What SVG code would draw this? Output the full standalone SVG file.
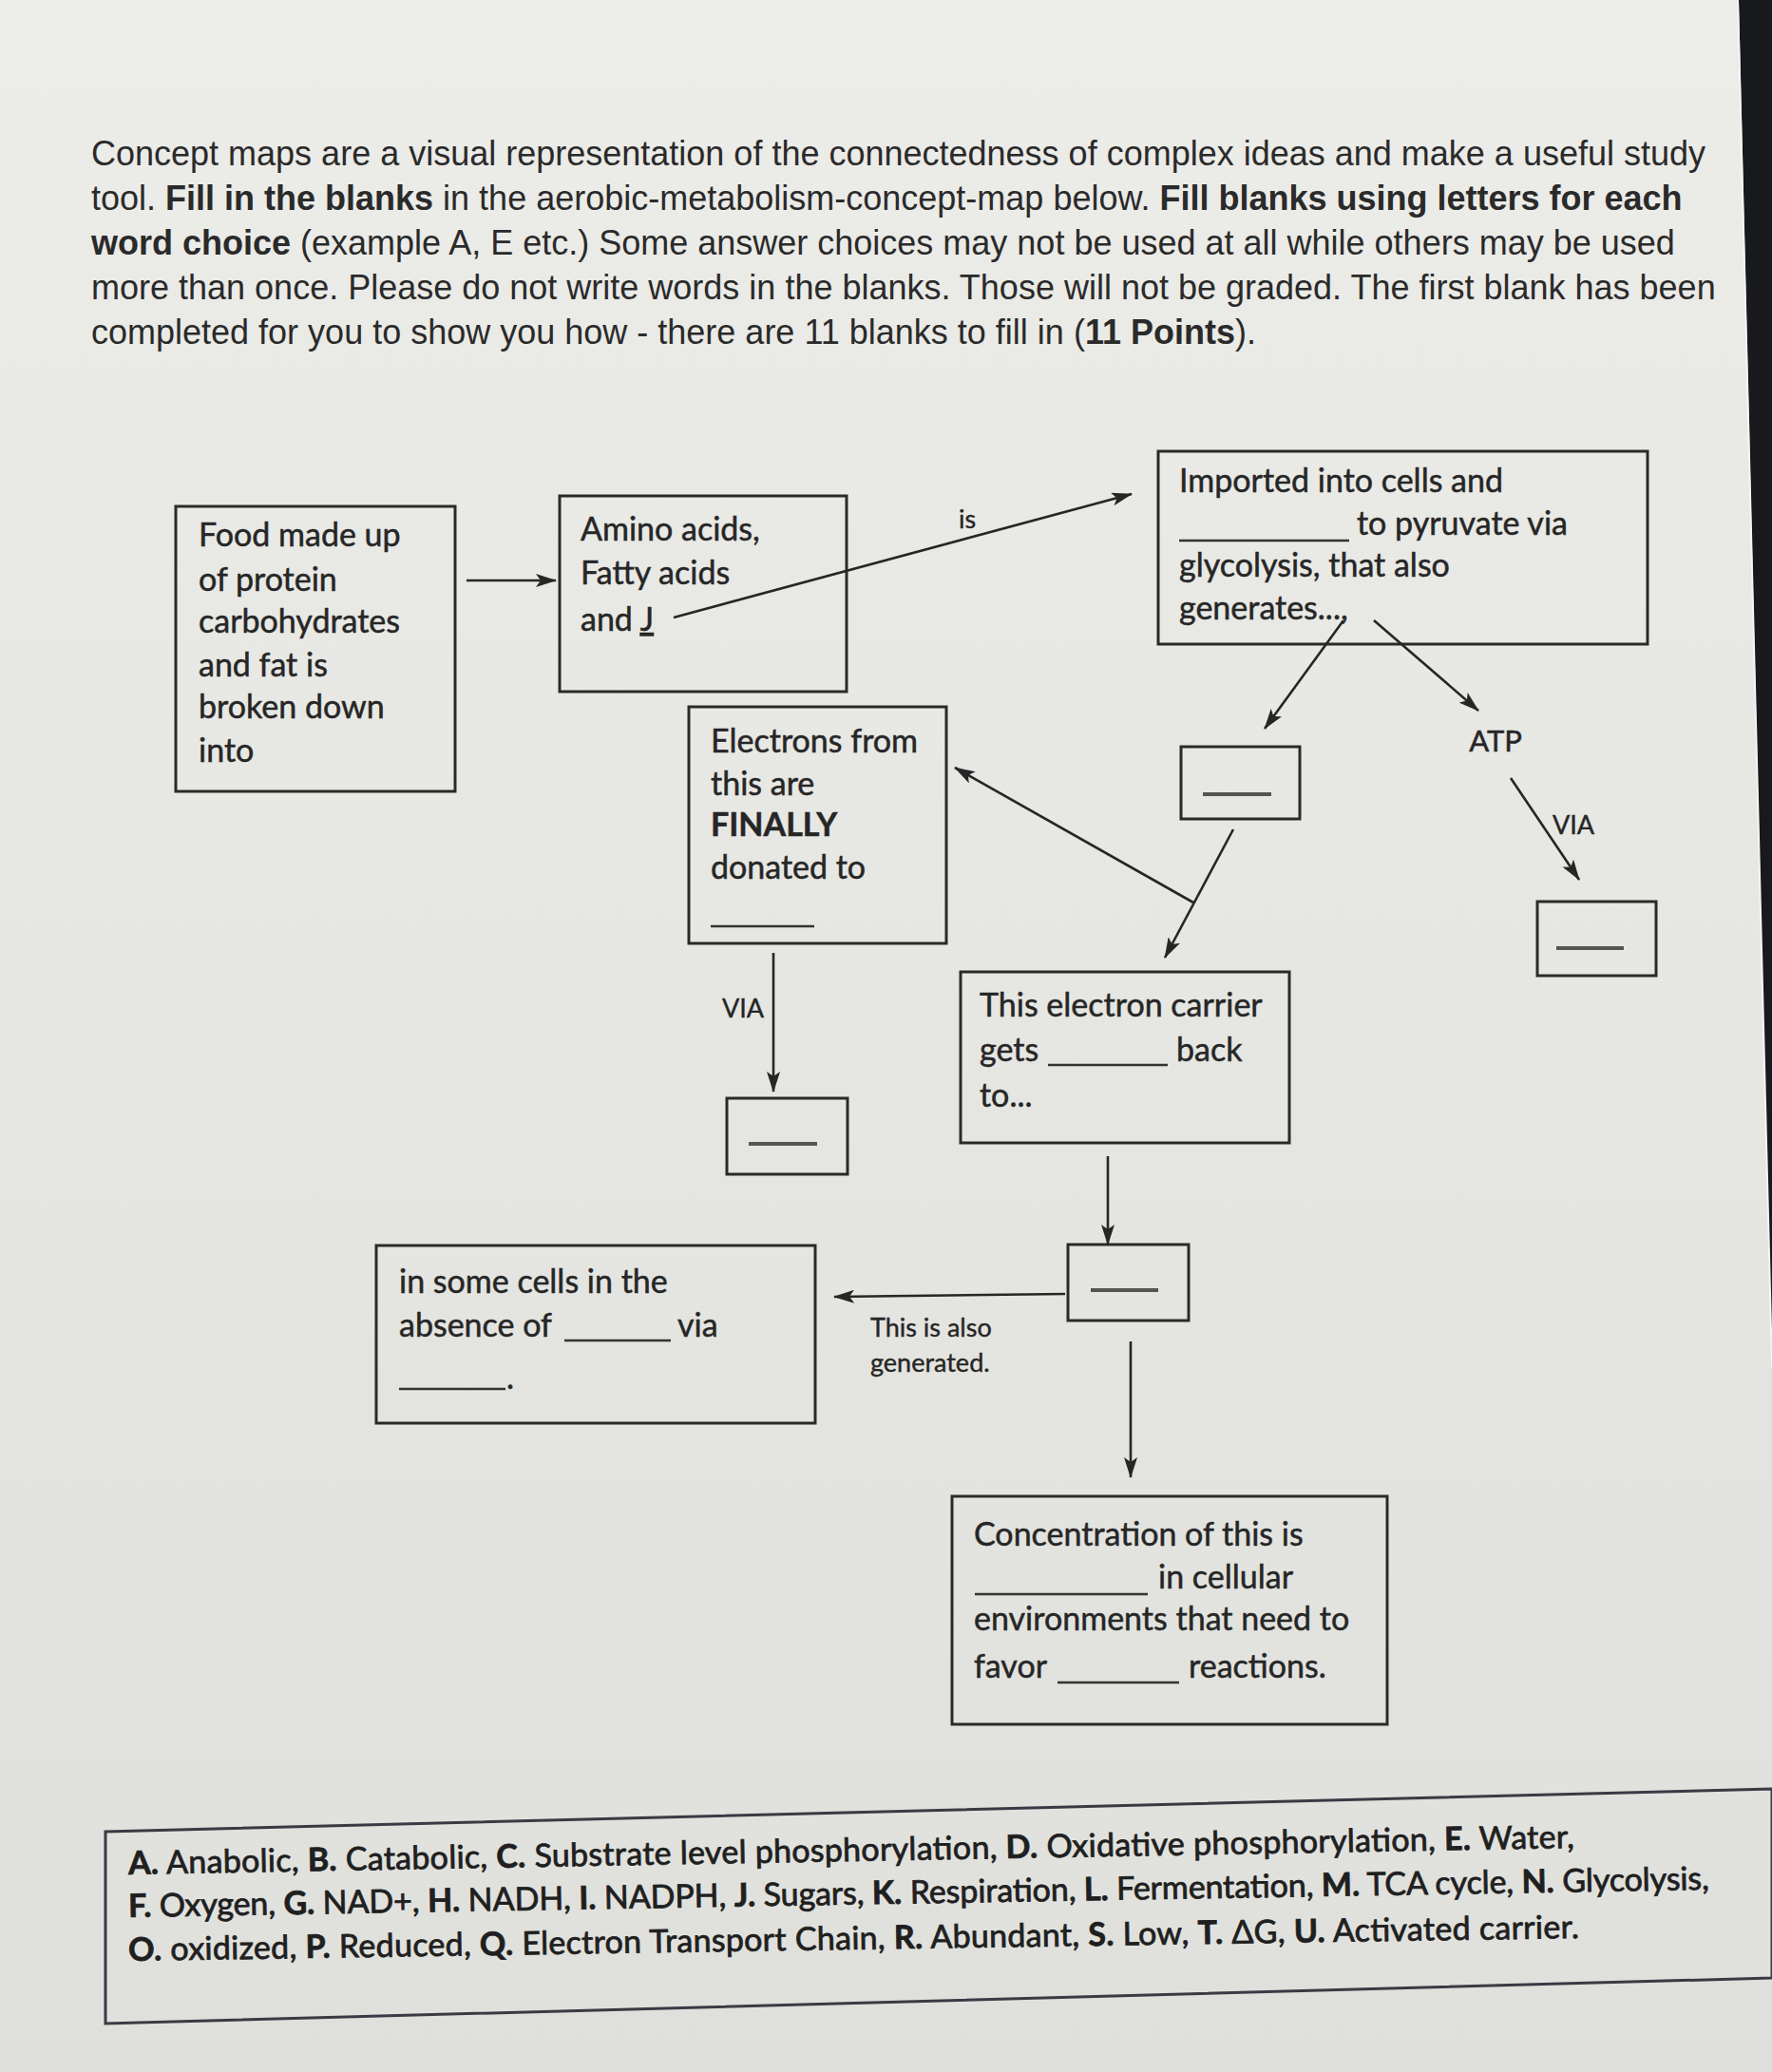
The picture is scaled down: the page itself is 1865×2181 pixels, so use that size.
<svg xmlns="http://www.w3.org/2000/svg" width="1865" height="2181" viewBox="0 0 1865 2181">
<defs>
<linearGradient id="bg" x1="0" y1="0" x2="0" y2="1">
<stop offset="0" stop-color="#ecece8"/>
<stop offset="1" stop-color="#dfe0dc"/>
</linearGradient>
<marker id="ah" viewBox="0 0 22 14" refX="21" refY="7" markerWidth="22" markerHeight="14" markerUnits="userSpaceOnUse" orient="auto">
<path d="M0,0 L22,7 L0,14 L5,7 z" fill="#262626"/>
</marker>
<style>
.intro{font-family:"Liberation Sans",Arial,sans-serif;font-size:36px;fill:#2a2a2a}
.b{font-weight:bold}
.box{fill:none;stroke:#2a2a2a;stroke-width:3}
.t{font-family:Lato,"Open Sans",sans-serif;font-size:34px;fill:#262626;stroke:#262626;stroke-width:0.5}
.lab{font-family:Lato,"Open Sans",sans-serif;font-size:27px;fill:#262626;stroke:#262626;stroke-width:0.4}
.blank{stroke:#333;stroke-width:2.5}
.sblank{stroke:#555;stroke-width:4}
.con{stroke:#262626;stroke-width:2.6;fill:none}
.ans{font-family:Lato,"Open Sans",sans-serif;font-size:34px;fill:#1f1f1f;stroke:#1f1f1f;stroke-width:0.8}
</style>
</defs>
<rect x="0" y="0" width="1865" height="2181" fill="url(#bg)"/>
<polygon points="1830,0 1865,0 1865,1440" fill="#17191d"/>
<line x1="1829" y1="0" x2="1865" y2="1440" stroke="#f4f4f4" stroke-width="2"/>

<g id="intro">
<text class="intro" x="96" y="174">Concept maps are a visual representation of the connectedness of complex ideas and make a useful study</text>
<text class="intro" x="96" y="221">tool. <tspan class="b">Fill in the blanks</tspan> in the aerobic-metabolism-concept-map below. <tspan class="b">Fill blanks using letters for each</tspan></text>
<text class="intro" x="96" y="268"><tspan class="b">word choice</tspan> (example A, E etc.) Some answer choices may not be used at all while others may be used</text>
<text class="intro" x="96" y="315">more than once. Please do not write words in the blanks. Those will not be graded. The first blank has been</text>
<text class="intro" x="96" y="362">completed for you to show you how - there are 11 blanks to fill in (<tspan class="b">11 Points</tspan>).</text>
</g>

<g id="food">
<rect class="box" x="185" y="533" width="294" height="300"/>
<text class="t" x="209" y="575">Food made up</text>
<text class="t" x="209" y="622">of protein</text>
<text class="t" x="209" y="666">carbohydrates</text>
<text class="t" x="209" y="712">and fat is</text>
<text class="t" x="209" y="756">broken down</text>
<text class="t" x="209" y="802">into</text>
</g>

<g id="amino">
<rect class="box" x="589" y="522" width="302" height="206"/>
<text class="t" x="611" y="569">Amino acids,</text>
<text class="t" x="611" y="615">Fatty acids</text>
<text class="t" x="611" y="664">and <tspan text-decoration="underline">J</tspan></text>
</g>

<g id="imported">
<rect class="box" x="1219" y="475" width="515" height="203"/>
<text class="t" x="1241" y="518">Imported into cells and</text>
<line class="blank" x1="1241" y1="569" x2="1420" y2="569"/>
<text class="t" x="1428" y="563">to pyruvate via</text>
<text class="t" x="1241" y="607">glycolysis, that also</text>
<text class="t" x="1241" y="652">generates...,</text>
</g>

<g id="nadh">
<rect class="box" x="1243" y="786" width="125" height="76"/>
<line class="sblank" x1="1266" y1="836" x2="1338" y2="836"/>
</g>

<g id="atp">
<text class="t" x="1574" y="791" text-anchor="middle" style="font-size:31px">ATP</text>
</g>

<g id="atpvia">
<rect class="box" x="1618" y="949" width="125" height="78"/>
<line class="sblank" x1="1638" y1="998" x2="1709" y2="998"/>
</g>

<g id="electrons">
<rect class="box" x="725" y="744" width="271" height="249"/>
<text class="t" x="748" y="792">Electrons from</text>
<text class="t" x="748" y="837">this are</text>
<text class="t b" x="748" y="880">FINALLY</text>
<text class="t" x="748" y="925">donated to</text>
<line class="blank" x1="748" y1="975" x2="857" y2="975"/>
</g>

<g id="etc">
<rect class="box" x="765" y="1156" width="127" height="80"/>
<line class="sblank" x1="788" y1="1204" x2="860" y2="1204"/>
</g>

<g id="carrier">
<rect class="box" x="1011" y="1023" width="346" height="180"/>
<text class="t" x="1031" y="1070">This electron carrier</text>
<text class="t" x="1031" y="1117">gets</text>
<line class="blank" x1="1103" y1="1121" x2="1229" y2="1121"/>
<text class="t" x="1238" y="1117">back</text>
<text class="t" x="1031" y="1165">to...</text>
</g>

<g id="nadplus">
<rect class="box" x="1124" y="1310" width="127" height="80"/>
<line class="sblank" x1="1148" y1="1358" x2="1219" y2="1358"/>
</g>

<g id="fermentation">
<rect class="box" x="396" y="1311" width="462" height="187"/>
<text class="t" x="420" y="1361">in some cells in the</text>
<text class="t" x="420" y="1407">absence of</text>
<line class="blank" x1="594" y1="1411" x2="706" y2="1411"/>
<text class="t" x="713" y="1407">via</text>
<line class="blank" x1="420" y1="1462" x2="532" y2="1462"/>
<text class="t" x="533" y="1462">.</text>
</g>

<g id="concentration">
<rect class="box" x="1002" y="1575" width="458" height="240"/>
<text class="t" x="1025" y="1627">Concentration of this is</text>
<line class="blank" x1="1026" y1="1678" x2="1208" y2="1678"/>
<text class="t" x="1219" y="1672">in cellular</text>
<text class="t" x="1025" y="1716">environments that need to</text>
<text class="t" x="1025" y="1766">favor</text>
<line class="blank" x1="1113" y1="1771" x2="1241" y2="1771"/>
<text class="t" x="1251" y="1766">reactions.</text>
</g>

<g id="connectors">
<line class="con" x1="491" y1="611" x2="585" y2="611" marker-end="url(#ah)"/>
<line class="con" x1="709" y1="650" x2="1191" y2="520" marker-end="url(#ah)"/>
<text class="lab" x="1018" y="556" text-anchor="middle">is</text>
<line class="con" x1="1414" y1="653" x2="1331" y2="767" marker-end="url(#ah)"/>
<line class="con" x1="1446" y1="653" x2="1556" y2="748" marker-end="url(#ah)"/>
<line class="con" x1="1590" y1="819" x2="1662" y2="926" marker-end="url(#ah)"/>
<text class="lab" x="1656" y="878" text-anchor="middle">VIA</text>
<line class="con" x1="1298" y1="873" x2="1226" y2="1008" marker-end="url(#ah)"/>
<line class="con" x1="1256" y1="950" x2="1005" y2="808" marker-end="url(#ah)"/>
<line class="con" x1="814" y1="1003" x2="814" y2="1149" marker-end="url(#ah)"/>
<text class="lab" x="782" y="1071" text-anchor="middle">VIA</text>
<line class="con" x1="1166" y1="1217" x2="1166" y2="1310" marker-end="url(#ah)"/>
<line class="con" x1="1121" y1="1362" x2="878" y2="1365" marker-end="url(#ah)"/>
<text class="lab" x="916" y="1407">This is also</text>
<text class="lab" x="916" y="1444">generated.</text>
<line class="con" x1="1190" y1="1412" x2="1190" y2="1555" marker-end="url(#ah)"/>
</g>

<g id="answers">
<polygon points="111,1928 1865,1883 1865,2082 111,2130" fill="none" stroke="#3a3a44" stroke-width="3"/>
<text class="ans" x="135" y="1973" transform="rotate(-1.05 135 1962)" textLength="1522" lengthAdjust="spacing"><tspan class="b">A.</tspan> Anabolic, <tspan class="b">B.</tspan> Catabolic, <tspan class="b">C.</tspan> Substrate level phosphorylation, <tspan class="b">D.</tspan> Oxidative phosphorylation, <tspan class="b">E.</tspan> Water,</text>
<text class="ans" x="135" y="2018" transform="rotate(-1.0 135 2006)" textLength="1664" lengthAdjust="spacing"><tspan class="b">F.</tspan> Oxygen, <tspan class="b">G.</tspan> NAD+, <tspan class="b">H.</tspan> NADH, <tspan class="b">I.</tspan> NADPH, <tspan class="b">J.</tspan> Sugars, <tspan class="b">K.</tspan> Respiration, <tspan class="b">L.</tspan> Fermentation, <tspan class="b">M.</tspan> TCA cycle, <tspan class="b">N.</tspan> Glycolysis,</text>
<text class="ans" x="135" y="2064" transform="rotate(-0.9 135 2052)" textLength="1527" lengthAdjust="spacing"><tspan class="b">O.</tspan> oxidized, <tspan class="b">P.</tspan> Reduced, <tspan class="b">Q.</tspan> Electron Transport Chain, <tspan class="b">R.</tspan> Abundant, <tspan class="b">S.</tspan> Low, <tspan class="b">T.</tspan> ΔG, <tspan class="b">U.</tspan> Activated carrier.</text>
</g>
</svg>
